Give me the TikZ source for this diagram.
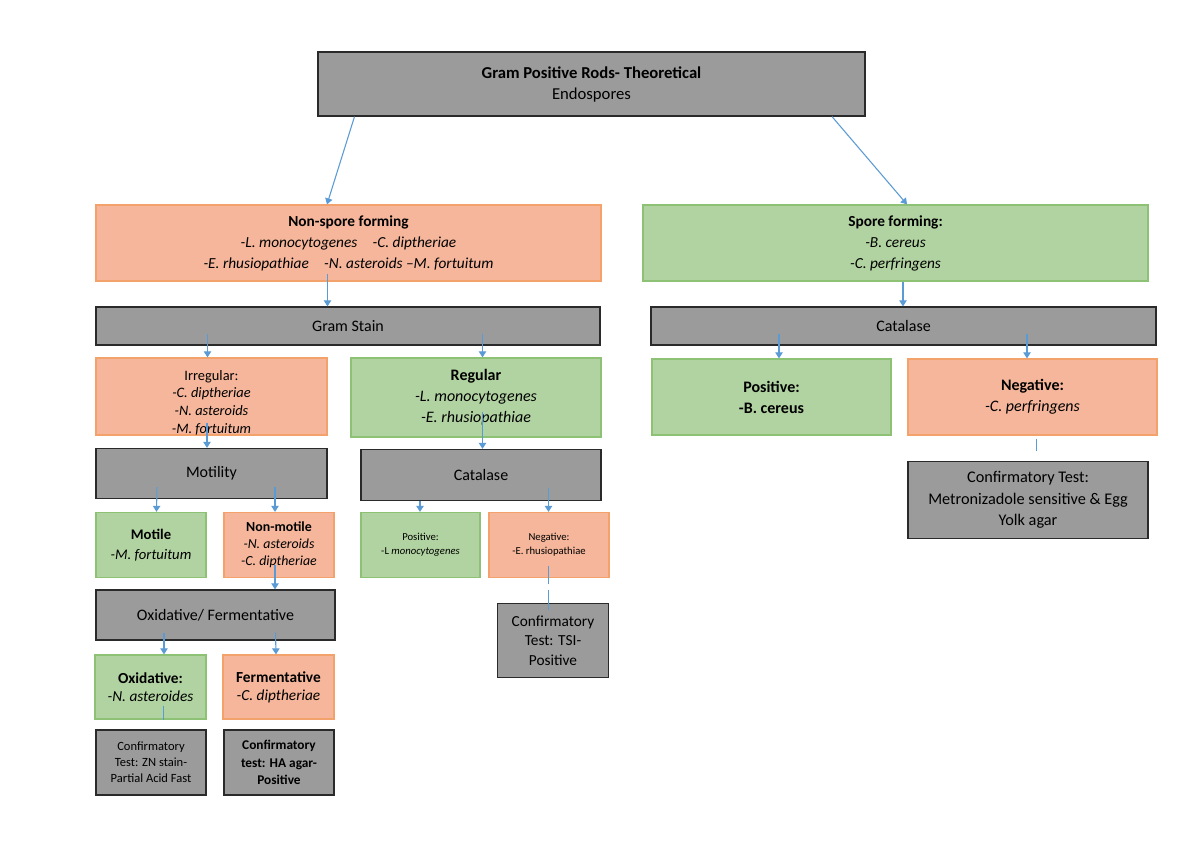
\documentclass[tikz,border=0pt]{standalone}
\usepackage{fontspec}
\setmainfont{Carlito}
\usetikzlibrary{arrows.meta,calc}
\definecolor{gfill}{HTML}{9B9B9B}
\definecolor{gdraw}{HTML}{2A2A2A}
\definecolor{ofill}{HTML}{F5B69B}
\definecolor{odraw}{HTML}{F4A26C}
\definecolor{nfill}{HTML}{B1D3A1}
\definecolor{ndraw}{HTML}{8DC173}
\definecolor{arrc}{HTML}{5B9BD5}
\newcommand\myfs[2]{\fontsize{#1}{#2}\selectfont}
\tikzset{
  bx/.style 2 args={inner sep=0pt, align=center, anchor=center, line width=0.9pt,
     minimum width=#1*0.75pt, minimum height=#2*0.75pt},
  gbox/.style={fill=gfill, draw=gdraw},
  obox/.style={fill=ofill, draw=odraw},
  nbox/.style={fill=nfill, draw=ndraw},
  arr/.style={draw=arrc, line width=0.8pt, -{Triangle[width=5.5pt,length=4.5pt]}},
  ln/.style={draw=arrc, line width=0.8pt}
}
\begin{document}
\begin{tikzpicture}[x=0.75pt,y=-0.75pt]
\fill[white] (0,0) rectangle (1200,848);
\useasboundingbox (0,0) rectangle (1200,848);

\node[gbox, bx={547}{64}, font=\myfs{12.5}{15.75}] (top) at (591.5,84)
  {\textbf{Gram Positive Rods- Theoretical}\\Endospores};
\node[obox, bx={505}{76}, font=\myfs{11.5}{15.75}] (nons) at (348.5,243)
  {\textbf{Non-spore forming}\\\textit{-L. monocytogenes\quad -C. diptheriae}\\\textit{-E. rhusiopathiae\quad -N. asteroids –M. fortuitum}};
\node[nbox, bx={505}{76}, font=\myfs{11.5}{15.75}] (spo) at (895.5,243)
  {\textbf{Spore forming:}\\\textit{-B. cereus}\\\textit{-C. perfringens}};
\node[gbox, bx={504}{38}, font=\myfs{12}{15}] (gram) at (348,326) {Gram Stain};
\node[gbox, bx={505}{38}, font=\myfs{12}{15}] (catr) at (903.5,326) {Catalase};
\node[obox, bx={231}{77}] (irr) at (211.5,396.5) {};
\node[align=center, inner sep=0pt, font=\myfs{10.8}{13.2}] (irrtext) at ($(irr.center)+(0,6)$)
  {Irregular:\\\textit{-C. diptheriae}\\\textit{-N. asteroids}\\\textit{-M. fortuitum}};
\node[nbox, bx={250}{79}, font=\myfs{12}{15.75}] (reg) at (476,397.5)
  {\textbf{Regular}\\\textit{-L. monocytogenes}\\\textit{-E. rhusiopathiae}};
\node[nbox, bx={239}{76}, font=\myfs{12}{15.75}] (posr) at (771.5,397)
  {\textbf{Positive:}\\\textbf{-B. cereus}};
\node[obox, bx={249}{76}, font=\myfs{12}{15.75}] (negr) at (1032.5,397)
  {\textbf{Negative:}\\\textit{-C. perfringens}};
\node[gbox, bx={231}{50}, font=\myfs{12}{15}] (mot) at (211.5,473.5) {Motility};
\node[gbox, bx={240}{51}, font=\myfs{12}{15}] (catm) at (481,475) {Catalase};
\node[gbox, bx={240}{77}, font=\myfs{12.2}{16}] (confr) at (1028,500)
  {Confirmatory Test:\\Metronizadole sensitive \& Egg\\Yolk agar};
\node[nbox, bx={110}{65}, font=\myfs{11}{15}] (motile) at (151,545)
  {\textbf{Motile}\\\textit{-M. fortuitum}};
\node[obox, bx={110}{65}, font=\myfs{10.4}{12.9}] (nonmot) at (279,545)
  {\textbf{Non-motile}\\\textit{-N. asteroids}\\\textit{-C. diptheriae}};
\node[nbox, bx={119}{65}, font=\myfs{8}{10.7}] (posm) at (420.5,545)
  {Positive:\\-L\ \textit{monocytogenes}};
\node[obox, bx={120}{65}, font=\myfs{8}{10.7}] (negm) at (549,545)
  {Negative:\\-E. rhusiopathiae};
\node[gbox, bx={239}{50}, font=\myfs{12}{15}] (oxf) at (215.5,615) {Oxidative/ Fermentative};
\node[gbox, bx={111}{74}, font=\myfs{11.5}{14.6}] (tsi) at (553,640.5)
  {Confirmatory\\Test: TSI-\\Positive};
\node[nbox, bx={111}{64}, font=\myfs{11.5}{13.5}] (oxd) at (150.5,687)
  {\textbf{Oxidative:}\\\textit{-N. asteroides}};
\node[obox, bx={111}{64}, font=\myfs{11.5}{13.5}] (fer) at (278.5,687)
  {\textbf{Fermentative}\\\textit{-C. diptheriae}};
\node[gbox, bx={110}{65}, font=\myfs{9.4}{11.9}] (zn) at (151,762.5)
  {Confirmatory\\Test: ZN stain-\\Partial Acid Fast};
\node[gbox, bx={110}{65}, font=\myfs{10}{13.1}] (ha) at (279,762.5)
  {\textbf{Confirmatory}\\\textbf{test: HA agar-}\\\textbf{Positive}};

% connectors
\draw[arr] ($(top.south)+(-237,0)$) -- ($(nons.north)+(-21.5,0)$);
\draw[arr] ($(top.south)+(240.5,0)$) -- ($(spo.north)+(11.5,0)$);
\draw[arr] ($(nons.south)+(-21,-8)$) -- ($(gram.north)+(-20.5,0)$);
\draw[arr] ($(spo.south)+(7.5,0)$) -- ($(catr.north)+(-0.5,0)$);
\draw[arr] ($(gram.south)+(-140.5,-12)$) -- ($(irr.north)+(-4,0)$);
\draw[arr] ($(gram.south)+(134.5,-12)$) -- ($(reg.north)+(6.5,0)$);
\draw[arr] ($(irr.south)+(-4.5,-13)$) -- ($(mot.north)+(-4.5,0)$);
\draw[arr] ($(reg.south)+(6.5,-26)$) -- ($(catm.north)+(1.5,0)$);
\draw[arr] ($(catr.south)+(-124.5,-12)$) -- ($(posr.north)+(7.5,0)$);
\draw[arr] ($(catr.south)+(123.5,-12)$) -- ($(negr.north)+(-5.5,0)$);
\draw[arr] ($(mot.south)+(-54.5,-12)$) -- ($(motile.north)+(5.5,0)$);
\draw[arr] ($(mot.south)+(63.5,-12)$) -- ($(nonmot.north)+(-4,0)$);
\draw[arr] ($(catm.south)+(-61,0)$) -- ($(posm.north)+(-0.5,0)$);
\draw[arr] ($(catm.south)+(67.5,-13)$) -- ($(negm.north)+(-0.5,0)$);
\draw[arr] ($(nonmot.south)+(-4,-13)$) -- ($(oxf.north)+(59.5,0)$);
\draw[arr] ($(oxf.south)+(-51.5,-8)$) -- ($(oxd.north)+(13.5,0)$);
\draw[arr] ($(oxf.south)+(60,-8)$) -- ($(fer.north)+(-2.5,0)$);
% line stubs without heads
\draw[ln] ($(oxd.south)+(13,-14)$) -- ($(oxd.south)+(13,0)$);
\draw[ln] ($(negm.south)+(-0.5,-12)$) -- ($(negm.south)+(-0.5,6)$);
\draw[ln] ($(tsi.north)+(-4.5,-13)$) -- ($(tsi.north)+(-4.5,7)$);
\draw[ln] ($(negr.south)+(4,3)$) -- ($(negr.south)+(4,15)$);
\end{tikzpicture}
\end{document}
